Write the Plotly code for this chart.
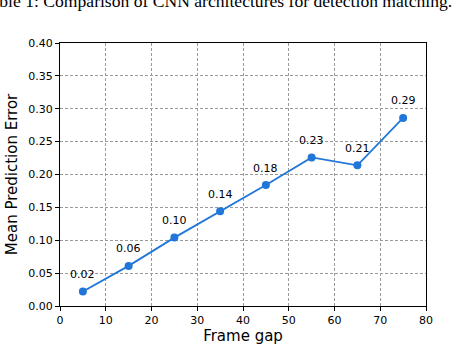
import plotly.graph_objects as go

frame_gap = [5, 15, 25, 35, 45, 55, 65, 75]
mean_error = [0.022, 0.061, 0.104, 0.144, 0.184, 0.226, 0.214, 0.286]
x_ticks = [0, 10, 20, 30, 40, 50, 60, 70, 80]
y_ticks = [0.0, 0.05, 0.10, 0.15, 0.20, 0.25, 0.30, 0.35, 0.40]
caption = "Table 1: Comparison of CNN architectures for detection matching."

blue = "#2176d9"
fig = go.Figure()
fig.add_trace(go.Scatter(
    x=frame_gap, y=mean_error, mode="lines+markers",
    line=dict(color=blue, width=1.8),
    marker=dict(color=blue, size=8),
    cliponaxis=False, showlegend=False,
))
for xv, yv in zip(frame_gap, mean_error):
    fig.add_annotation(
        x=xv, y=yv, text=f"{yv:.2f}", showarrow=False,
        xanchor="center", yanchor="middle", yshift=17,
        font=dict(family="DejaVu Sans", size=11, color="black"),
    )

axis_common = dict(
    showline=True, linecolor="black", linewidth=1.2, mirror=True,
    ticks="outside", ticklen=4, tickcolor="black", tickwidth=1,
    showgrid=True, gridcolor="#9a9a9a", griddash="3px,2px", gridwidth=1,
    zeroline=False,
    tickfont=dict(family="DejaVu Sans", size=11, color="black"),
)
fig.update_xaxes(range=[0, 80], tickvals=x_ticks, ticktext=[str(v) for v in x_ticks],
                 title=dict(text="Frame gap", font=dict(family="DejaVu Sans", size=15, color="black"), standoff=4),
                 **axis_common)
fig.update_yaxes(range=[0, 0.40], tickvals=y_ticks, ticktext=[f"{v:.2f}" for v in y_ticks],
                 title=dict(text="Mean Prediction Error", font=dict(family="DejaVu Sans", size=15, color="black"), standoff=6),
                 **axis_common)

fig.add_annotation(
    text=caption, xref="paper", yref="paper", x=1.076, y=1.16,
    xanchor="right", yanchor="middle", showarrow=False,
    font=dict(family="Liberation Serif", size=17.6, color="black"),
)

fig.update_layout(
    width=474, height=354,
    margin=dict(l=59, r=48, t=43, b=39),
    paper_bgcolor="white", plot_bgcolor="white",
)
fig.write_html("out.html")
